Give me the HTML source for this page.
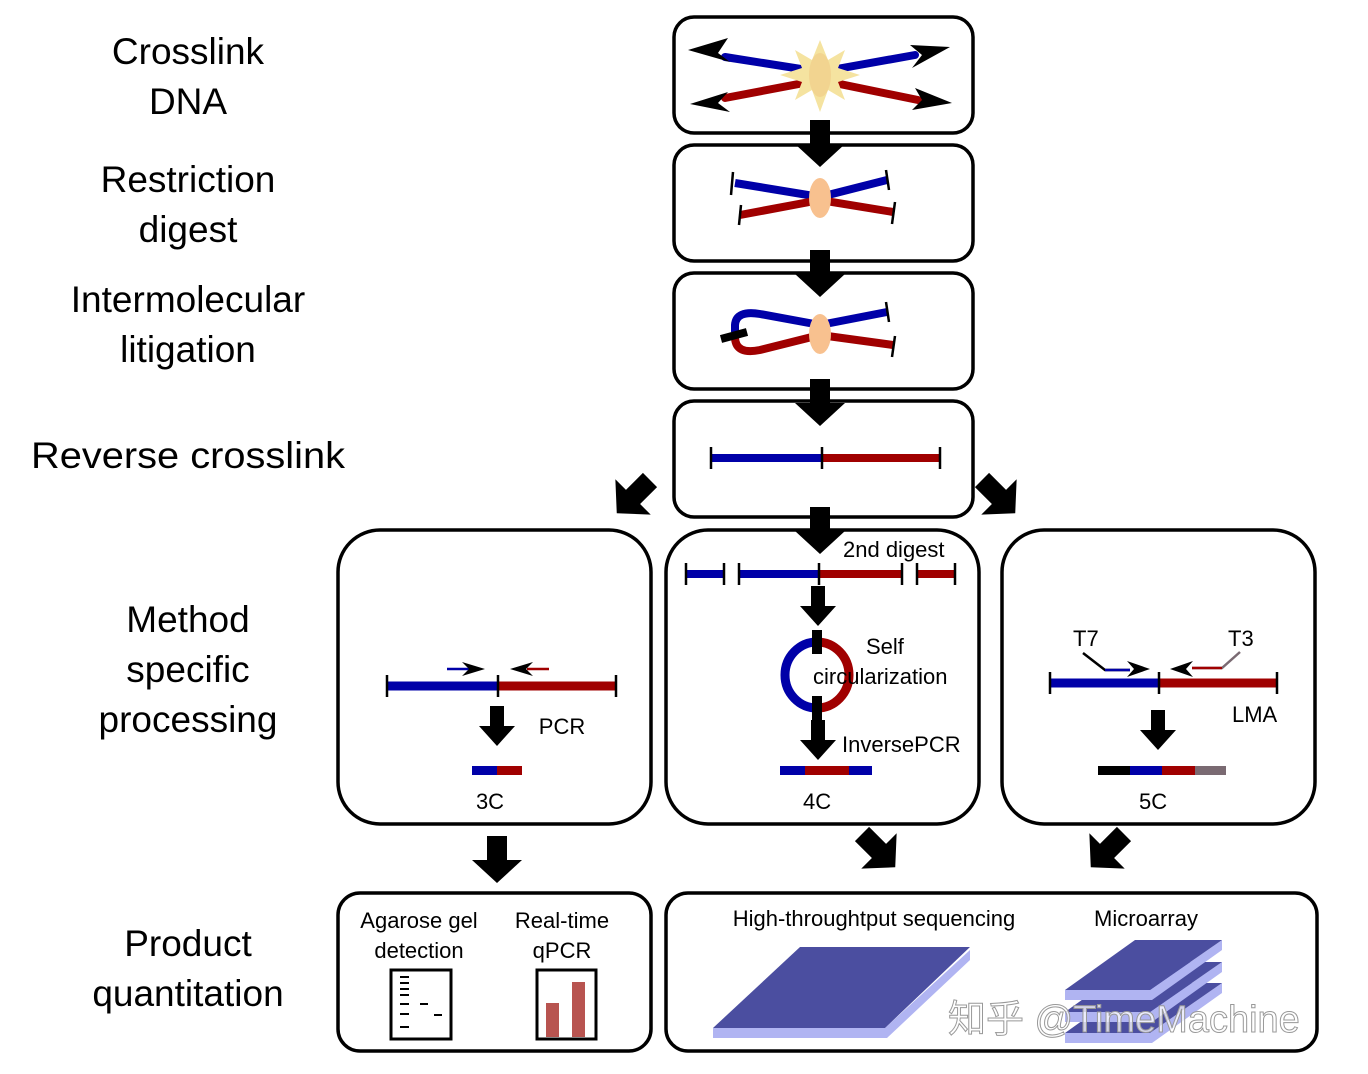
<!DOCTYPE html>
<html><head><meta charset="utf-8"><style>
html,body{margin:0;padding:0;background:#fff;}
svg{display:block;font-family:"Liberation Sans",Arial,sans-serif;}
</style></head><body>
<svg width="1368" height="1074" viewBox="0 0 1368 1074" xmlns="http://www.w3.org/2000/svg">
<defs>
<path id="ba" d="M-10,0 H10 V24 H25 L0,47 L-25,24 H-10 Z" fill="#000"/>
<path id="sa" d="M-7,0 H7 V20 H18 L0,40 L-18,20 H-7 Z" fill="#000"/>
</defs>
<g font-size="37" text-anchor="middle" fill="#000">
<text x="188" y="64">Crosslink</text><text x="188" y="114">DNA</text>
<text x="188" y="192">Restriction</text><text x="188" y="242">digest</text>
<text x="188" y="312">Intermolecular</text><text x="188" y="362">litigation</text>
<text x="188" y="468" textLength="314" lengthAdjust="spacingAndGlyphs">Reverse crosslink</text>
<text x="188" y="632">Method</text><text x="188" y="682">specific</text><text x="188" y="732">processing</text>
<text x="188" y="956">Product</text><text x="188" y="1006">quantitation</text>
</g>
<g fill="#fff" stroke="#000" stroke-width="3.5">
<rect x="674" y="17" width="299" height="116" rx="20"/>
<rect x="674" y="145" width="299" height="116" rx="20"/>
<rect x="674" y="273" width="299" height="116" rx="20"/>
<rect x="674" y="401" width="299" height="116" rx="20"/>
<rect x="338" y="530" width="313" height="294" rx="42"/>
<rect x="666" y="530" width="313" height="294" rx="42"/>
<rect x="1002" y="530" width="313" height="294" rx="42"/>
<rect x="338" y="893" width="313" height="158" rx="22"/>
<rect x="666" y="893" width="651" height="158" rx="22"/>
</g>
<!-- box1 -->
<g stroke-width="8" stroke-linecap="round" fill="none">
<path d="M725,57 L820,72 L915,55" stroke="#0000a8"/>
<path d="M725,98 L820,80 L918,100" stroke="#a00000"/>
</g>
<polygon points="820,40 828,60 845,50 838,68 860,75 838,82 845,100 828,90 820,112 812,90 795,100 802,82 780,75 802,68 795,50 812,60" fill="#f5e3a0"/>
<ellipse cx="820" cy="75" rx="11" ry="22" fill="#f2d490"/>
<polygon points="688,50 728,38 718,53 730,62" fill="#000"/>
<polygon points="950,47 910,45 922,55 912,68" fill="#000"/>
<polygon points="690,104 728,92 718,103 730,112" fill="#000"/>
<polygon points="952,103 915,88 922,100 912,110" fill="#000"/>
<!-- box2 -->
<g stroke-width="8" fill="none">
<path d="M735,183 L820,197 L887,180" stroke="#0000a8"/>
<path d="M740,215 L820,200 L893,212" stroke="#a00000"/>
</g>
<g stroke="#000" stroke-width="2.5"><line x1="733" y1="172" x2="731" y2="195"/><line x1="886" y1="170" x2="889" y2="190"/><line x1="741" y1="205" x2="739" y2="225"/><line x1="895" y1="202" x2="892" y2="224"/></g>
<ellipse cx="820" cy="198" rx="11" ry="20" fill="#f8c18f"/>
<!-- box3 -->
<g stroke-width="8" fill="none">
<path d="M820,325 L760,314 Q736,310 735,325 L735,332" stroke="#0000a8"/>
<path d="M820,325 L887,312" stroke="#0000a8"/>
<path d="M735,338 Q736,355 760,350 L820,335 L893,345" stroke="#a00000"/>
</g>
<line x1="721" y1="339" x2="747" y2="332" stroke="#000" stroke-width="8"/>
<g stroke="#000" stroke-width="2.5"><line x1="886" y1="302" x2="889" y2="322"/><line x1="895" y1="336" x2="892" y2="357"/></g>
<ellipse cx="820" cy="334" rx="11" ry="20" fill="#f8c18f"/>
<!-- box4 -->
<line x1="711" y1="458" x2="821" y2="458" stroke="#0000a8" stroke-width="8"/>
<line x1="821" y1="458" x2="940" y2="458" stroke="#a00000" stroke-width="8"/>
<g stroke="#000" stroke-width="2.5"><line x1="711" y1="447" x2="711" y2="469"/><line x1="822" y1="447" x2="822" y2="469"/><line x1="940" y1="447" x2="940" y2="469"/></g>
<!-- big arrows -->
<use href="#ba" x="820" y="120"/>
<use href="#ba" x="820" y="250"/>
<use href="#ba" x="820" y="379"/>
<use href="#ba" x="820" y="507"/>
<use href="#ba" x="497" y="836"/>
<use href="#ba" transform="translate(650,480) rotate(45)"/>
<use href="#ba" transform="translate(982,480) rotate(-45)"/>
<use href="#ba" transform="translate(862,834) rotate(-45)"/>
<use href="#ba" transform="translate(1124,834) rotate(45)"/>
<!-- 3C -->
<line x1="387" y1="686" x2="498" y2="686" stroke="#0000a8" stroke-width="9"/>
<line x1="498" y1="686" x2="616" y2="686" stroke="#a00000" stroke-width="9"/>
<g stroke="#000" stroke-width="2.5"><line x1="387" y1="675" x2="387" y2="697"/><line x1="498" y1="675" x2="498" y2="697"/><line x1="616" y1="675" x2="616" y2="697"/></g>
<line x1="447" y1="669" x2="470" y2="669" stroke="#0000a8" stroke-width="2.5"/><polygon points="485,669 462,662 469,669 462,676" fill="#000"/>
<line x1="527" y1="669" x2="549" y2="669" stroke="#a00000" stroke-width="2.5"/><polygon points="510,669 533,662 526,669 533,676" fill="#000"/>
<use href="#sa" x="497" y="706"/>
<rect x="472" y="766" width="25" height="9" fill="#0000a8"/><rect x="497" y="766" width="25" height="9" fill="#a00000"/>
<g font-size="22" text-anchor="middle"><text x="562" y="734">PCR</text><text x="490" y="809">3C</text></g>
<!-- 4C -->
<line x1="686" y1="574" x2="724" y2="574" stroke="#0000a8" stroke-width="8"/>
<line x1="739" y1="574" x2="819" y2="574" stroke="#0000a8" stroke-width="8"/>
<line x1="819" y1="574" x2="902" y2="574" stroke="#a00000" stroke-width="8"/>
<line x1="917" y1="574" x2="955" y2="574" stroke="#a00000" stroke-width="8"/>
<g stroke="#000" stroke-width="2.5"><line x1="686" y1="563" x2="686" y2="585"/><line x1="724" y1="563" x2="724" y2="585"/><line x1="739" y1="563" x2="739" y2="585"/><line x1="819" y1="563" x2="819" y2="585"/><line x1="902" y1="563" x2="902" y2="585"/><line x1="917" y1="563" x2="917" y2="585"/><line x1="955" y1="563" x2="955" y2="585"/></g>
<use href="#sa" x="818" y="586"/>
<path d="M817,642 A32,33 0 0 0 817,708" stroke="#0000a8" stroke-width="9" fill="none"/>
<path d="M817,642 A32,33 0 0 1 817,708" stroke="#a00000" stroke-width="9" fill="none"/>
<rect x="812" y="630" width="10" height="24" fill="#000"/><rect x="812" y="696" width="10" height="24" fill="#000"/>
<use href="#sa" x="818" y="720"/>
<rect x="780" y="766" width="25" height="9" fill="#0000a8"/><rect x="805" y="766" width="44" height="9" fill="#a00000"/><rect x="849" y="766" width="23" height="9" fill="#0000a8"/>
<g font-size="22"><text x="843" y="557">2nd digest</text><text x="866" y="654">Self</text><text x="813" y="684">circularization</text><text x="842" y="752">InversePCR</text><text x="803" y="809">4C</text></g>
<!-- 5C -->
<line x1="1050" y1="683" x2="1159" y2="683" stroke="#0000a8" stroke-width="9"/>
<line x1="1159" y1="683" x2="1277" y2="683" stroke="#a00000" stroke-width="9"/>
<g stroke="#000" stroke-width="2.5"><line x1="1050" y1="672" x2="1050" y2="694"/><line x1="1159" y1="672" x2="1159" y2="694"/><line x1="1277" y1="672" x2="1277" y2="694"/></g>
<polyline points="1083,653 1105,670 1130,670" stroke="#000" stroke-width="2.5" fill="none"/><line x1="1105" y1="670" x2="1130" y2="670" stroke="#0000a8" stroke-width="2.5"/>
<polygon points="1150,669 1127,661 1134,669 1127,677" fill="#000"/>
<polyline points="1240,652 1222,668 1192,668" stroke="#7a6a72" stroke-width="2.5" fill="none"/><line x1="1222" y1="668" x2="1192" y2="668" stroke="#a00000" stroke-width="2.5"/>
<polygon points="1170,669 1193,661 1186,669 1193,677" fill="#000"/>
<use href="#sa" x="1158" y="710"/>
<rect x="1098" y="766" width="32" height="9" fill="#000"/><rect x="1130" y="766" width="32" height="9" fill="#0000a8"/><rect x="1162" y="766" width="33" height="9" fill="#a00000"/><rect x="1195" y="766" width="31" height="9" fill="#7a6a72"/>
<g font-size="22"><text x="1073" y="646">T7</text><text x="1228" y="646">T3</text><text x="1232" y="722">LMA</text><text x="1139" y="809">5C</text></g>
<!-- bottom left -->
<g font-size="22" text-anchor="middle"><text x="419" y="928">Agarose gel</text><text x="419" y="958">detection</text><text x="562" y="928">Real-time</text><text x="562" y="958">qPCR</text></g>
<rect x="391" y="970" width="60" height="69" fill="#fff" stroke="#000" stroke-width="3"/>
<g stroke="#000" stroke-width="2"><line x1="400" y1="977" x2="409" y2="977"/><line x1="400" y1="983" x2="409" y2="983"/><line x1="400" y1="989" x2="409" y2="989"/><line x1="400" y1="995" x2="409" y2="995"/><line x1="400" y1="1004" x2="409" y2="1004"/><line x1="400" y1="1014" x2="409" y2="1014"/><line x1="400" y1="1027" x2="409" y2="1027"/><line x1="420" y1="1004" x2="428" y2="1004"/><line x1="434" y1="1015" x2="442" y2="1015"/></g>
<rect x="537" y="970" width="59" height="69" fill="#fff" stroke="#000" stroke-width="3"/>
<rect x="546" y="1003" width="13" height="34" fill="#b85450"/><rect x="572" y="982" width="13" height="55" fill="#b85450"/>
<!-- bottom right -->
<g font-size="22" text-anchor="middle"><text x="874" y="926">High-throughtput sequencing</text><text x="1146" y="926">Microarray</text></g>
<!-- sequencing slab -->
<polygon points="713,1028 885,1028 970,950 970,960 887,1038 713,1038" fill="#b0b4f2"/>
<polygon points="713,1028 800,947 970,947 885,1028" fill="#4b4ea0"/>
<!-- microarray stack -->
<g>
<polygon points="1065,1033 1150,1033 1222,983 1222,993 1152,1043 1065,1043" fill="#b0b4f2"/>
<polygon points="1065,1033 1135,983 1222,983 1150,1033" fill="#4b4ea0"/>
<polygon points="1065,1012 1150,1012 1222,962 1222,972 1152,1022 1065,1022" fill="#b0b4f2"/>
<polygon points="1065,1012 1135,962 1222,962 1150,1012" fill="#4b4ea0"/>
<polygon points="1065,990 1150,990 1222,940 1222,950 1152,1000 1065,1000" fill="#b0b4f2"/>
<polygon points="1065,990 1135,940 1222,940 1150,990" fill="#4b4ea0"/>
</g>
<text x="948" y="1032" font-size="38" fill="#fff" fill-opacity="0.75" stroke="#999" stroke-width="1" font-family="'Liberation Sans','Noto Sans CJK SC',sans-serif">知乎 @TimeMachine</text>
</svg>
</body></html>
